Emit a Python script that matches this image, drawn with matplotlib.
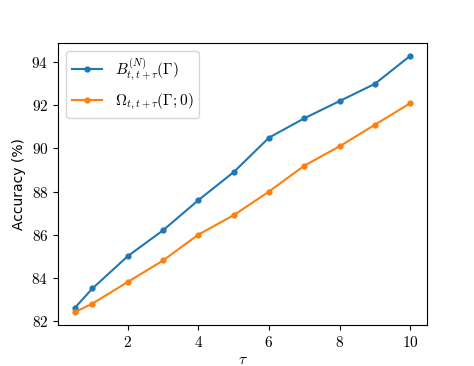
import matplotlib
matplotlib.use("Agg")
import matplotlib.pyplot as plt
from matplotlib.ticker import FuncFormatter

plt.rcParams['mathtext.fontset'] = 'cm'

# data
tau = [0.5, 1, 2, 3, 4, 5, 6, 7, 8, 9, 10]
acc_b = [82.6, 83.5, 85.0, 86.2, 87.6, 88.9, 90.5, 91.4, 92.2, 93.0, 94.3]
acc_omega = [82.4, 82.8, 83.8, 84.8, 86.0, 86.9, 88.0, 89.2, 90.1, 91.1, 92.1]

fig = plt.figure(figsize=(4.74, 3.66), dpi=100)
ax = fig.add_axes([58 / 474, 1 - 325 / 366, (427 - 58) / 474, (325 - 43) / 366])

ax.plot(tau, acc_b, marker='o', markersize=3.5, linewidth=1.5, color='#1f77b4',
        label=r'$B^{(N)}_{t,t+\tau}(\Gamma)$')
ax.plot(tau, acc_omega, marker='o', markersize=3.5, linewidth=1.5, color='#ff7f0e',
        label=r'$\Omega_{t,t+\tau}(\Gamma;0)$')

ax.set_xticks([2, 4, 6, 8, 10])
ax.set_yticks([82, 84, 86, 88, 90, 92, 94])
fmt = FuncFormatter(lambda v, pos: f'${v:g}$')
ax.xaxis.set_major_formatter(fmt)
ax.yaxis.set_major_formatter(fmt)
ax.tick_params(labelsize=11)

ax.set_xlabel(r'$\tau$', fontsize=11, labelpad=2)
ax.set_ylabel('Accuracy (%)', fontsize=10)
ax.legend(loc='upper left', fontsize=11, labelspacing=0.6)

fig.savefig('out.png', dpi=100)
